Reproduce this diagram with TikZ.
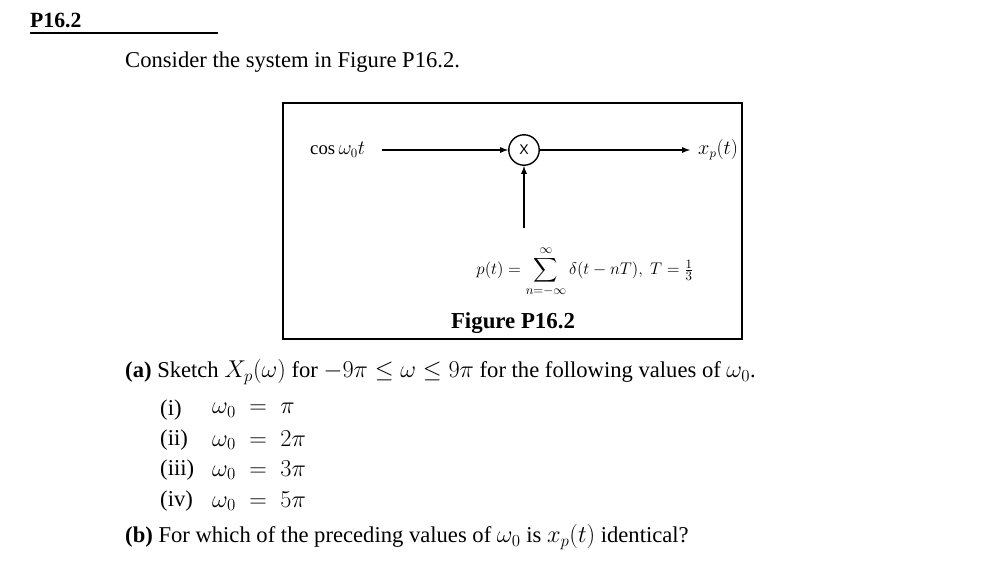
\documentclass[tikz,border=0pt]{standalone}
\usepackage{amsmath}
\usepackage{fontspec}
\setmainfont{Liberation Serif}
\newfontfamily\dsans{Liberation Sans}
\begin{document}
\begin{tikzpicture}[x=0.03cm,y=-0.03cm,
  txt/.style={anchor=west,inner sep=0,font=\fontsize{19.3}{23}\selectfont},
  dtx/.style={inner sep=0,font=\fontsize{16}{19}\selectfont},
  arr/.style={-latex,line width=1.3pt}]
\useasboundingbox (0,0) rectangle (995,585);
\node[txt,font=\fontsize{18.5}{21}\selectfont\bfseries] (t) at (30,20) {P16.2};
\draw[line width=1pt] (30,33) -- (218,33);
\node[txt] (c) at (125,62) {Consider the system in Figure P16.2.};
\draw[line width=1pt] (283,103) rectangle (742,339);
\node[dtx,anchor=west] (cos) at (310,150) {$\cos\omega_0 t$};
\node[draw,circle,line width=1.2pt,minimum size=26pt,inner sep=0] (m) at (524,150) {\dsans\large X};
\node[dtx,anchor=west] (xp) at (698,150) {$x_p(t)$};
\coordinate (ce) at (382,150);
\coordinate (xe) at (690,150);
\coordinate (pb) at (524,228);
\draw[arr] (ce) -- (m);
\draw[arr] (m) -- (xe);
\draw[arr] (pb) -- (m);
\node[dtx,font=\fontsize{15}{18}\selectfont] (p) at (585,272) {$p(t)=\displaystyle\sum_{n=-\infty}^{\infty}\delta(t-nT),\ T=\tfrac{1}{3}$};
\node[dtx,font=\fontsize{19.5}{22}\selectfont\bfseries] (f) at (513,323) {Figure P16.2};
\node[txt] (a) at (125,372) {\textbf{(a)} Sketch $X_p(\omega)$ for $-9\pi\le\omega\le9\pi$ for the following values of $\omega_0$.};
\node[txt] (i1) at (160,410) {(i)};
\node[txt] (i2) at (160,440) {(ii)};
\node[txt] (i3) at (160,470) {(iii)};
\node[txt] (i4) at (160,501) {(iv)};
\node[txt] (w1) at (212,410) {$\omega_0\;=\;\pi$};
\node[txt] (w2) at (212,440) {$\omega_0\;=\;2\pi$};
\node[txt] (w3) at (212,470) {$\omega_0\;=\;3\pi$};
\node[txt] (w4) at (212,501) {$\omega_0\;=\;5\pi$};
\node[txt] (b) at (125,537) {\textbf{(b)} For which of the preceding values of $\omega_0$ is $x_p(t)$ identical?};
\end{tikzpicture}
\end{document}
